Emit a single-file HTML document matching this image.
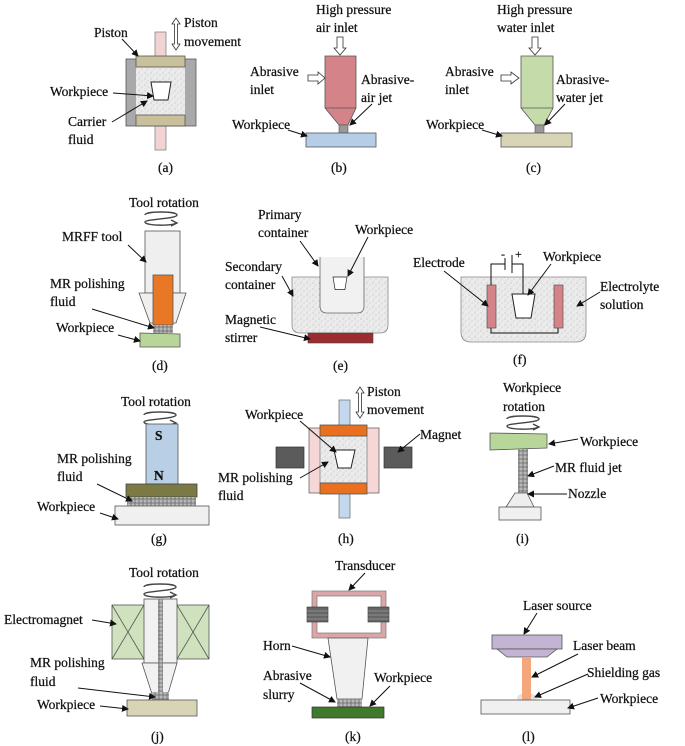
<!DOCTYPE html>
<html><head><meta charset="utf-8"><style>
html,body{margin:0;padding:0;background:#fff;}
svg{display:block;}
text{font-family:"Liberation Serif",serif;font-size:13.5px;fill:#111;stroke:#111;stroke-width:0.25;}
.l{stroke:#111;stroke-width:1;fill:none;}
</style></head><body>
<svg width="685" height="746" viewBox="0 0 685 746" xmlns="http://www.w3.org/2000/svg">
<defs>
<pattern id="sp" width="6" height="6" patternUnits="userSpaceOnUse">
<rect width="6" height="6" fill="#ebebeb"/>
<circle cx="1" cy="1" r="0.6" fill="#bbb"/><circle cx="4" cy="3" r="0.6" fill="#c4c4c4"/><circle cx="2" cy="5" r="0.5" fill="#ccc"/>
</pattern>
<pattern id="gs" width="4" height="4" patternUnits="userSpaceOnUse">
<rect width="4" height="4" fill="#9a9a9a"/><circle cx="1" cy="1" r="0.8" fill="#ddd"/><circle cx="3" cy="3" r="0.7" fill="#666"/>
</pattern>
<marker id="ah" markerWidth="7" markerHeight="7" refX="6" refY="3.5" orient="auto" markerUnits="userSpaceOnUse">
<path d="M0,0 L7,3.5 L0,7 Z" fill="#111"/>
</marker>
<g id="rot"><path d="M-16,-3 C-16,-7 16,-7 16,-3 C16,1 -16,1 -16,4 C-16,8 14,8 14,5" fill="none" stroke="#444" stroke-width="1.4"/><path d="M10,2 L16,5 L10,8" fill="none" stroke="#444" stroke-width="1.4"/></g>
<g id="wp"><path d="M-10,0 L10,0 L7,18 L-7,18 Z" fill="#fff" stroke="#222" stroke-width="1"/></g>
</defs>

<!-- (a) -->
<rect x="155" y="32" width="11" height="118" fill="#f2d3d3" stroke="#888" stroke-width="0.8"/>
<rect x="126" y="59" width="70" height="67" fill="#a9a9ab" stroke="#555" stroke-width="0.8"/>
<rect x="136" y="67" width="49" height="48" fill="url(#sp)"/>
<rect x="136" y="56" width="49" height="11" fill="#c8c09a" stroke="#555" stroke-width="0.8"/>
<rect x="136" y="115" width="49" height="11" fill="#c8c09a" stroke="#555" stroke-width="0.8"/>
<use href="#wp" x="161" y="82"/>
<path d="M176,18 L172,24 L174.5,24 L174.5,44 L172,44 L176,50 L180,44 L177.5,44 L177.5,24 L180,24 Z" fill="#fff" stroke="#333" stroke-width="0.8"/>
<text x="94" y="37">Piston</text>
<text x="184" y="27">Piston</text><text x="184" y="46">movement</text>
<text x="50" y="96">Workpiece</text>
<text x="68" y="126">Carrier</text><text x="68" y="144">fluid</text>
<line class="l" x1="122" y1="39" x2="138" y2="56" marker-end="url(#ah)"/>
<line class="l" x1="113" y1="93" x2="153" y2="96" marker-end="url(#ah)"/>
<line class="l" x1="112" y1="122" x2="147" y2="101" marker-end="url(#ah)"/>
<text x="158" y="172">(a)</text>

<!-- (b) -->
<text x="316" y="14">High pressure</text><text x="316" y="32">air inlet</text>
<path d="M337,37 L343,37 L343,48 L346,48 L340,55 L334,48 L337,48 Z" fill="#fff" stroke="#333" stroke-width="0.8"/>
<path d="M325,56 L356,56 L356,108 L348,125 L339,125 L325,108 Z" fill="#d48488" stroke="#555" stroke-width="0.8"/>
<line x1="325" y1="108" x2="356" y2="108" stroke="#555" stroke-width="0.8"/>
<rect x="339" y="125" width="9" height="8" fill="#999" stroke="#555" stroke-width="0.6"/>
<rect x="306" y="133" width="70" height="14" fill="#b6cde8" stroke="#555" stroke-width="0.8"/>
<path d="M308,75 L318,75 L318,72 L325,78 L318,84 L318,81 L308,81 Z" fill="#fff" stroke="#333" stroke-width="0.8"/>
<text x="250" y="76">Abrasive</text><text x="250" y="94">inlet</text>
<text x="361" y="84">Abrasive-</text><text x="361" y="102">air jet</text>
<line class="l" x1="372" y1="104" x2="350" y2="125" marker-end="url(#ah)"/>
<text x="232" y="129">Workpiece</text>
<line class="l" x1="288" y1="130" x2="307" y2="136" marker-end="url(#ah)"/>
<text x="331" y="172">(b)</text>

<!-- (c) -->
<text x="497" y="14">High pressure</text><text x="497" y="32">water inlet</text>
<path d="M532,37 L538,37 L538,48 L541,48 L535,55 L529,48 L532,48 Z" fill="#fff" stroke="#333" stroke-width="0.8"/>
<path d="M521,56 L553,56 L553,108 L544,125 L535,125 L521,108 Z" fill="#c5dba9" stroke="#555" stroke-width="0.8"/>
<line x1="521" y1="108" x2="553" y2="108" stroke="#555" stroke-width="0.8"/>
<rect x="535" y="125" width="9" height="8" fill="#999" stroke="#555" stroke-width="0.6"/>
<rect x="501" y="133" width="71" height="14" fill="#d8d4b6" stroke="#555" stroke-width="0.8"/>
<path d="M501,75 L511,75 L511,72 L519,78 L511,84 L511,81 L501,81 Z" fill="#fff" stroke="#333" stroke-width="0.8"/>
<text x="445" y="76">Abrasive</text><text x="445" y="94">inlet</text>
<text x="556" y="84">Abrasive-</text><text x="556" y="102">water  jet</text>
<line class="l" x1="565" y1="104" x2="545" y2="125" marker-end="url(#ah)"/>
<text x="426" y="129">Workpiece</text>
<line class="l" x1="482" y1="130" x2="502" y2="136" marker-end="url(#ah)"/>
<text x="526" y="172">(c)</text>

<!-- (d) -->
<text x="129" y="207">Tool rotation</text>
<use href="#rot" x="161" y="218"/>
<rect x="145" y="231" width="35" height="62" fill="#efefef" stroke="#555" stroke-width="0.8"/>
<path d="M139,293 L186,293 L176,323 L150,323 Z" fill="#efefef" stroke="#555" stroke-width="0.8"/>
<rect x="153" y="275" width="20" height="50" fill="#e87826" stroke="#555" stroke-width="0.8"/>
<rect x="153" y="325" width="20" height="8" fill="url(#gs)"/>
<path d="M140,333 L180,334 L180,347 L140,347 Z" fill="#b9d69a" stroke="#555" stroke-width="0.8"/>
<text x="62" y="241">MRFF tool</text>
<line class="l" x1="128" y1="245" x2="146" y2="262" marker-end="url(#ah)"/>
<text x="50" y="288">MR polishing</text><text x="50" y="306">fluid</text>
<line class="l" x1="92" y1="309" x2="154" y2="328" marker-end="url(#ah)"/>
<text x="56" y="332">Workpiece</text>
<line class="l" x1="118" y1="335" x2="140" y2="341" marker-end="url(#ah)"/>
<text x="152" y="370">(d)</text>

<!-- (e) -->
<path d="M292,277 L388,277 L388,325 Q388,333 380,333 L300,333 Q292,333 292,325 Z" fill="url(#sp)" stroke="#888" stroke-width="0.8"/>
<path d="M320,257 L320,306 Q320,313 327,313 L357,313 Q364,313 364,306 L364,257" fill="#f1f1f1" stroke="#666" stroke-width="0.8"/>
<use href="#wp" x="340" y="277" transform="translate(340 277) scale(0.7) translate(-340 -277)"/>
<rect x="308" y="333" width="65" height="10" fill="#9b2c30" stroke="#444" stroke-width="0.6"/>
<text x="258" y="219">Primary</text><text x="258" y="237">container</text>
<line class="l" x1="300" y1="241" x2="318" y2="266" marker-end="url(#ah)"/>
<text x="355" y="234">Workpiece</text>
<line class="l" x1="368" y1="237" x2="348" y2="276" marker-end="url(#ah)"/>
<text x="225" y="271">Secondary</text><text x="225" y="289">container</text>
<line class="l" x1="282" y1="276" x2="293" y2="296" marker-end="url(#ah)"/>
<text x="225" y="324">Magnetic</text><text x="225" y="342">stirrer</text>
<line class="l" x1="260" y1="327" x2="310" y2="339" marker-end="url(#ah)"/>
<text x="333" y="370">(e)</text>

<!-- (f) -->
<path d="M461,277 L586,277 L586,332 Q586,342 576,342 L471,342 Q461,342 461,332 Z" fill="url(#sp)" stroke="#888" stroke-width="0.8"/>
<rect x="487" y="285" width="9" height="43" fill="#d48488" stroke="#555" stroke-width="0.7"/>
<rect x="554" y="285" width="9" height="43" fill="#d48488" stroke="#555" stroke-width="0.7"/>
<path d="M512,294 L535,294 L531,318 L516,318 Z" fill="#fff" stroke="#222" stroke-width="1"/>
<path d="M491,285 L491,264 L505,264 M505,258 L505,270 M512,255 L512,273 M512,264 L523,264 L523,294" class="l"/>
<path d="M491,328 L491,333 L558,333 L558,328" class="l"/>
<text x="501" y="258" style="font-size:12px">-</text><text x="515" y="258" style="font-size:12px">+</text>
<text x="413" y="267">Electrode</text>
<line class="l" x1="444" y1="271" x2="488" y2="306" marker-end="url(#ah)"/>
<text x="543" y="261">Workpiece</text>
<line class="l" x1="551" y1="264" x2="528" y2="295" marker-end="url(#ah)"/>
<text x="600" y="291">Electrolyte</text><text x="600" y="309">solution</text>
<line class="l" x1="600" y1="292" x2="577" y2="306" marker-end="url(#ah)"/>
<text x="513" y="364">(f)</text>

<!-- (g) -->
<text x="121" y="406">Tool rotation</text>
<use href="#rot" x="160" y="418"/>
<rect x="146" y="424" width="32" height="60" fill="#b8cfe6" stroke="#555" stroke-width="0.8"/>
<text x="155" y="440" style="font-weight:bold">S</text>
<text x="154" y="480" style="font-weight:bold">N</text>
<rect x="126" y="484" width="71" height="13" fill="#7b7a45" stroke="#444" stroke-width="0.8"/>
<rect x="127" y="497" width="69" height="9" fill="url(#gs)"/>
<rect x="115" y="506" width="94" height="19" fill="#f0f0f0" stroke="#555" stroke-width="0.8"/>
<text x="57" y="463">MR polishing</text><text x="57" y="481">fluid</text>
<line class="l" x1="97" y1="484" x2="132" y2="501" marker-end="url(#ah)"/>
<text x="37" y="511">Workpiece</text>
<line class="l" x1="100" y1="513" x2="118" y2="519" marker-end="url(#ah)"/>
<text x="151" y="543">(g)</text>

<!-- (h) -->
<rect x="339" y="400" width="11" height="118" fill="#c3d8ee" stroke="#777" stroke-width="0.8"/>
<rect x="309" y="428" width="70" height="65" fill="#f6d6d6" stroke="#666" stroke-width="0.8"/>
<rect x="320" y="436" width="47" height="47" fill="url(#sp)" stroke="#666" stroke-width="0.6"/>
<rect x="320" y="425" width="47" height="11" fill="#e8701e" stroke="#555" stroke-width="0.8"/>
<rect x="320" y="483" width="47" height="11" fill="#e8701e" stroke="#555" stroke-width="0.8"/>
<path d="M334,450 L355,450 L351,468 L338,468 Z" fill="#fff" stroke="#222" stroke-width="1"/>
<rect x="276" y="447" width="28" height="21" fill="#5b5b5b" stroke="#333" stroke-width="0.7"/>
<rect x="384" y="447" width="28" height="21" fill="#5b5b5b" stroke="#333" stroke-width="0.7"/>
<path d="M360,387 L356,393 L358.5,393 L358.5,412 L356,412 L360,418 L364,412 L361.5,412 L361.5,393 L364,393 Z" fill="#fff" stroke="#333" stroke-width="0.8"/>
<text x="367" y="396">Piston</text><text x="367" y="414">movement</text>
<text x="245" y="419">Workpiece</text>
<line class="l" x1="300" y1="421" x2="336" y2="452" marker-end="url(#ah)"/>
<text x="420" y="439">Magnet</text>
<line class="l" x1="420" y1="434" x2="398" y2="452" marker-end="url(#ah)"/>
<text x="218" y="482">MR polishing</text><text x="218" y="500">fluid</text>
<line class="l" x1="300" y1="478" x2="328" y2="462" marker-end="url(#ah)"/>
<text x="338" y="543">(h)</text>

<!-- (i) -->
<text x="503" y="392">Workpiece</text><text x="503" y="411">rotation</text>
<use href="#rot" x="523" y="422"/>
<path d="M490,433 L547,434 L547,448 L490,450 Z" fill="#b9d69a" stroke="#555" stroke-width="0.8"/>
<rect x="518" y="449" width="10" height="45" fill="url(#gs)"/>
<path d="M515,493 L527,493 L534,507 L506,507 Z" fill="#eee" stroke="#555" stroke-width="0.8"/>
<rect x="499" y="507" width="42" height="13" fill="#f0f0f0" stroke="#555" stroke-width="0.8"/>
<text x="580" y="446">Workpiece</text>
<line class="l" x1="578" y1="439" x2="549" y2="444" marker-end="url(#ah)"/>
<text x="555" y="472">MR fluid jet</text>
<line class="l" x1="554" y1="466" x2="528" y2="476" marker-end="url(#ah)"/>
<text x="568" y="498">Nozzle</text>
<line class="l" x1="567" y1="494" x2="528" y2="494" marker-end="url(#ah)"/>
<text x="516" y="543">(i)</text>

<!-- (j) -->
<text x="129" y="577">Tool rotation</text>
<use href="#rot" x="160" y="590"/>
<rect x="112" y="605" width="97" height="54" fill="#cfe2bd" stroke="#555" stroke-width="0.8"/>
<path d="M112,605 L144,659 M144,605 L112,659 M177,605 L209,659 M209,605 L177,659" stroke="#555" stroke-width="0.8"/>
<rect x="144" y="599" width="33" height="64" fill="#f1f1f1" stroke="#555" stroke-width="0.8"/>
<path d="M142,663 L177,663 L168,694 L152,694 Z" fill="#f1f1f1" stroke="#555" stroke-width="0.8"/>
<rect x="158" y="599" width="5" height="95" fill="url(#gs)"/>
<rect x="152" y="692" width="17" height="8" fill="url(#gs)"/>
<rect x="127" y="700" width="70" height="16" fill="#d8d4b6" stroke="#555" stroke-width="0.8"/>
<text x="4" y="624">Electromagnet</text>
<line class="l" x1="92" y1="620" x2="116" y2="624" marker-end="url(#ah)"/>
<text x="30" y="667">MR polishing</text><text x="30" y="686">fluid</text>
<line class="l" x1="78" y1="688" x2="155" y2="697" marker-end="url(#ah)"/>
<text x="37" y="709">Workpiece</text>
<line class="l" x1="100" y1="706" x2="128" y2="709" marker-end="url(#ah)"/>
<text x="151" y="741">(j)</text>

<!-- (k) -->
<text x="335" y="570">Transducer</text>
<line class="l" x1="365" y1="573" x2="349" y2="590" marker-end="url(#ah)"/>
<rect x="314.5" y="593.5" width="69" height="42" fill="none" stroke="#dba6a8" stroke-width="5"/>
<rect x="312" y="591" width="74" height="47" fill="none" stroke="#777" stroke-width="0.7"/>
<rect x="317" y="596" width="64" height="37" fill="none" stroke="#777" stroke-width="0.7"/>
<rect x="307" y="607" width="21" height="15" fill="#666" stroke="#333" stroke-width="0.6"/>
<rect x="368" y="607" width="21" height="15" fill="#666" stroke="#333" stroke-width="0.6"/>
<path d="M307,611 H328 M307,615 H328 M307,619 H328 M368,611 H389 M368,615 H389 M368,619 H389" stroke="#999" stroke-width="0.8"/>
<path d="M328,638 L368,638 L362,699 L337,699 Z" fill="#f1f1f1" stroke="#555" stroke-width="0.8"/>
<rect x="337" y="699" width="25" height="8" fill="url(#gs)"/>
<rect x="312" y="707" width="72" height="11" fill="#3f7a2c" stroke="#333" stroke-width="0.7"/>
<text x="263" y="650">Horn</text>
<line class="l" x1="292" y1="646" x2="330" y2="657" marker-end="url(#ah)"/>
<text x="263" y="680">Abrasive</text><text x="263" y="699">slurry</text>
<line class="l" x1="300" y1="683" x2="335" y2="702" marker-end="url(#ah)"/>
<text x="374" y="682">Workpiece</text>
<line class="l" x1="390" y1="686" x2="370" y2="706" marker-end="url(#ah)"/>
<text x="345" y="741">(k)</text>

<!-- (l) -->
<text x="523" y="610">Laser source</text>
<line class="l" x1="537" y1="613" x2="524" y2="634" marker-end="url(#ah)"/>
<rect x="492" y="635" width="70" height="14" fill="#c4b4d4" stroke="#555" stroke-width="0.8"/>
<path d="M497,649 L557,649 L547,657 L507,657 Z" fill="#c4b4d4" stroke="#555" stroke-width="0.8"/>
<ellipse cx="527" cy="698" rx="10" ry="5" fill="#e3e3e3"/>
<rect x="522" y="657" width="9" height="43" fill="#f4a77a"/>
<rect x="481" y="700" width="89" height="14" fill="#f0f0f0" stroke="#555" stroke-width="0.8"/>
<text x="573" y="650">Laser beam</text>
<line class="l" x1="578" y1="654" x2="532" y2="677" marker-end="url(#ah)"/>
<text x="587" y="677">Shielding gas</text>
<line class="l" x1="588" y1="674" x2="535" y2="697" marker-end="url(#ah)"/>
<text x="600" y="703">Workpiece</text>
<line class="l" x1="598" y1="698" x2="568" y2="708" marker-end="url(#ah)"/>
<text x="522" y="741">(l)</text>
</svg>
</body></html>
